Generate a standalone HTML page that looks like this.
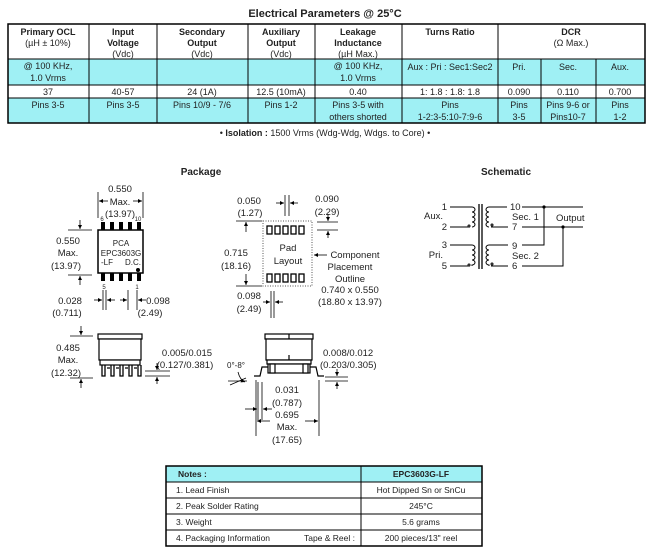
<!DOCTYPE html>
<html><head><meta charset="utf-8"><style>
html,body{margin:0;padding:0;background:#fff;}
svg{display:block;font-family:"Liberation Sans",Arial,sans-serif;}
text{fill:#222;}
</style></head><body>
<svg width="650" height="554" viewBox="0 0 650 554" xmlns="http://www.w3.org/2000/svg">
<defs>
<marker id="a" viewBox="0 0 10 10" refX="10" refY="5" markerWidth="5" markerHeight="5" orient="auto-start-reverse"><path d="M0,0L10,5L0,10z" fill="#000"/></marker>
</defs>
<text x="325" y="17" font-size="11" font-weight="bold" text-anchor="middle">Electrical Parameters @ 25°C</text>
<!-- table backgrounds -->
<rect x="8" y="59" width="637" height="26" fill="#9ff0f4"/>
<rect x="8" y="98" width="637" height="25" fill="#9ff0f4"/>
<g stroke="#000" stroke-width="1" fill="none">
<rect x="8" y="24" width="637" height="99" stroke-width="1.5"/>
<line x1="8" y1="59" x2="645" y2="59"/><line x1="8" y1="85" x2="645" y2="85"/><line x1="8" y1="98" x2="645" y2="98"/>
<line x1="89" y1="24" x2="89" y2="123"/><line x1="157" y1="24" x2="157" y2="123"/><line x1="248" y1="24" x2="248" y2="123"/>
<line x1="315" y1="24" x2="315" y2="123"/><line x1="402" y1="24" x2="402" y2="123"/><line x1="498" y1="24" x2="498" y2="123"/>
<line x1="541" y1="59" x2="541" y2="123"/><line x1="596" y1="59" x2="596" y2="123"/>
</g>
<g font-size="9" text-anchor="middle">
<text x="48" y="35" font-weight="bold">Primary OCL</text><text x="48" y="46">(µH ± 10%)</text>
<text x="123" y="35" font-weight="bold">Input</text><text x="123" y="46" font-weight="bold">Voltage</text><text x="123" y="57">(Vdc)</text>
<text x="202" y="35" font-weight="bold">Secondary</text><text x="202" y="46" font-weight="bold">Output</text><text x="202" y="57">(Vdc)</text>
<text x="281" y="35" font-weight="bold">Auxiliary</text><text x="281" y="46" font-weight="bold">Output</text><text x="281" y="57">(Vdc)</text>
<text x="358" y="35" font-weight="bold">Leakage</text><text x="358" y="46" font-weight="bold">Inductance</text><text x="358" y="57">(µH Max.)</text>
<text x="450" y="35" font-weight="bold">Turns Ratio</text>
<text x="571" y="35" font-weight="bold">DCR</text><text x="571" y="46">(Ω Max.)</text>
<text x="48" y="69">@ 100 KHz,</text><text x="48" y="81">1.0 Vrms</text>
<text x="358" y="69">@ 100 KHz,</text><text x="358" y="81">1.0 Vrms</text>
<text x="450" y="70">Aux : Pri : Sec1:Sec2</text>
<text x="519" y="70">Pri.</text><text x="568" y="70">Sec.</text><text x="620" y="70">Aux.</text>
<text x="48" y="95">37</text><text x="123" y="95">40-57</text><text x="202" y="95">24 (1A)</text><text x="281" y="95">12.5 (10mA)</text>
<text x="358" y="95">0.40</text><text x="450" y="95">1: 1.8 : 1.8: 1.8</text>
<text x="519" y="95">0.090</text><text x="568" y="95">0.110</text><text x="620" y="95">0.700</text>
<text x="48" y="108">Pins 3-5</text><text x="123" y="108">Pins 3-5</text><text x="202" y="108">Pins 10/9 - 7/6</text><text x="281" y="108">Pins 1-2</text>
<text x="358" y="108">Pins 3-5 with</text><text x="358" y="120">others shorted</text>
<text x="450" y="108">Pins</text><text x="450" y="120">1-2:3-5:10-7:9-6</text>
<text x="519" y="108">Pins</text><text x="519" y="120">3-5</text>
<text x="568" y="108">Pins 9-6 or</text><text x="568" y="120">Pins10-7</text>
<text x="620" y="108">Pins</text><text x="620" y="120">1-2</text>
<text x="325" y="136">•  <tspan font-weight="bold">Isolation :</tspan> 1500 Vrms (Wdg-Wdg, Wdgs. to Core)  •</text>
</g>

<text x="201" y="175" font-size="10" font-weight="bold" text-anchor="middle">Package</text>
<text x="506" y="175" font-size="10" font-weight="bold" text-anchor="middle">Schematic</text>

<g font-size="9.5" text-anchor="middle">
<!-- top view -->
<rect x="98" y="230" width="45" height="43" fill="#fff" stroke="#000" stroke-width="1.5"/>
<g fill="#000">
<rect x="101" y="222" width="4" height="8"/><rect x="110" y="222" width="4" height="8"/><rect x="119" y="222" width="4" height="8"/><rect x="128" y="222" width="4" height="8"/><rect x="137" y="222" width="4" height="8"/>
<rect x="101" y="273" width="4" height="8"/><rect x="110" y="273" width="4" height="8"/><rect x="119" y="273" width="4" height="8"/><rect x="128" y="273" width="4" height="8"/><rect x="137" y="273" width="4" height="8"/>
<circle cx="138" cy="270" r="2"/>
</g>
<text x="102" y="221" font-size="6">6</text><text x="138" y="221" font-size="6">10</text>
<text x="104" y="289" font-size="6">5</text><text x="137" y="289" font-size="6">1</text>
<text x="121" y="246" font-size="8">PCA</text><text x="121" y="256" font-size="8">EPC3603G</text>
<text x="107" y="265" font-size="8">-LF</text><text x="133" y="265" font-size="8">D.C.</text>
<text x="120" y="192">0.550</text><text x="120" y="205">Max.</text><text x="120" y="217">(13.97)</text>
<text x="68" y="244">0.550</text><text x="68" y="256">Max.</text><text x="66" y="269">(13.97)</text>
<text x="70" y="304">0.028</text><text x="67" y="316">(0.711)</text>
<text x="158" y="304">0.098</text><text x="150" y="316">(2.49)</text>
<!-- pad layout -->
<rect x="263" y="221" width="49" height="65" fill="none" stroke="#555" stroke-dasharray="1,1.5"/>
<g fill="none" stroke="#000" stroke-width="1.3">
<rect x="267" y="226" width="5" height="8"/><rect x="275" y="226" width="5" height="8"/><rect x="283" y="226" width="5" height="8"/><rect x="291" y="226" width="5" height="8"/><rect x="299" y="226" width="5" height="8"/>
<rect x="267" y="274" width="5" height="8"/><rect x="275" y="274" width="5" height="8"/><rect x="283" y="274" width="5" height="8"/><rect x="291" y="274" width="5" height="8"/><rect x="299" y="274" width="5" height="8"/>
</g>
<text x="288" y="251">Pad</text><text x="288" y="264">Layout</text>
<text x="236" y="256">0.715</text><text x="236" y="269">(18.16)</text>
<text x="249" y="204">0.050</text><text x="250" y="216">(1.27)</text>
<text x="327" y="202">0.090</text><text x="327" y="215">(2.29)</text>
<text x="249" y="299">0.098</text><text x="249" y="312">(2.49)</text>
<text x="355" y="258">Component</text><text x="350" y="270">Placement</text><text x="350" y="282">Outline</text>
<text x="350" y="293">0.740 x 0.550</text><text x="350" y="305">(18.80 x 13.97)</text>
<!-- side view left -->
<text x="68" y="351">0.485</text><text x="68" y="363">Max.</text><text x="66" y="376">(12.32)</text>
<text x="187" y="356">0.005/0.015</text><text x="185" y="368">(0.127/0.381)</text>
<!-- side view right -->
<text x="236" y="368" font-size="8">0°-8°</text>
<text x="323" y="356" text-anchor="start">0.008/0.012</text><text x="320" y="368" text-anchor="start">(0.203/0.305)</text>
<text x="287" y="393">0.031</text><text x="287" y="406">(0.787)</text>
<text x="287" y="418">0.695</text><text x="287" y="430">Max.</text><text x="287" y="443">(17.65)</text>
</g>

<g stroke="#000" stroke-width="0.8" fill="none">
<!-- top view dims -->
<line x1="98" y1="192" x2="98" y2="218"/><line x1="143" y1="192" x2="143" y2="218"/>
<line x1="108" y1="201" x2="99" y2="201" marker-end="url(#a)"/><line x1="133" y1="201" x2="142" y2="201" marker-end="url(#a)"/>
<line x1="68" y1="230" x2="92" y2="230"/><line x1="68" y1="275" x2="92" y2="275"/>
<line x1="80" y1="220" x2="80" y2="229" marker-end="url(#a)"/><line x1="80" y1="285" x2="80" y2="276" marker-end="url(#a)"/>
<line x1="103" y1="290" x2="103" y2="310"/><line x1="106" y1="290" x2="106" y2="310"/>
<line x1="94" y1="300" x2="102" y2="300" marker-end="url(#a)"/><line x1="115" y1="300" x2="107" y2="300" marker-end="url(#a)"/>
<line x1="128" y1="290" x2="128" y2="310"/><line x1="137" y1="290" x2="137" y2="310"/>
<line x1="120" y1="300" x2="127" y2="300" marker-end="url(#a)"/><line x1="146" y1="300" x2="138" y2="300" marker-end="url(#a)"/>
<!-- pad dims -->
<line x1="236" y1="221" x2="262" y2="221"/><line x1="236" y1="286" x2="262" y2="286"/>
<line x1="246" y1="232" x2="246" y2="222" marker-end="url(#a)"/><line x1="246" y1="274" x2="246" y2="285" marker-end="url(#a)"/>
<line x1="285" y1="195" x2="285" y2="216"/><line x1="289" y1="195" x2="289" y2="216"/>
<line x1="276" y1="203" x2="284" y2="203" marker-end="url(#a)"/><line x1="298" y1="203" x2="290" y2="203" marker-end="url(#a)"/>
<line x1="317" y1="222" x2="338" y2="222"/><line x1="317" y1="230" x2="338" y2="230"/>
<line x1="328" y1="214" x2="328" y2="221" marker-end="url(#a)"/><line x1="328" y1="238" x2="328" y2="231" marker-end="url(#a)"/>
<line x1="271" y1="291" x2="271" y2="318"/><line x1="274" y1="291" x2="274" y2="318"/>
<line x1="263" y1="302" x2="270" y2="302" marker-end="url(#a)"/><line x1="283" y1="302" x2="275" y2="302" marker-end="url(#a)"/>
<line x1="327" y1="255" x2="314" y2="255" marker-end="url(#a)"/>
<!-- side left -->
<line x1="70" y1="336" x2="93" y2="336"/><line x1="70" y1="378" x2="93" y2="378"/>
<line x1="81" y1="326" x2="81" y2="335" marker-end="url(#a)"/><line x1="81" y1="388" x2="81" y2="379" marker-end="url(#a)"/>
<line x1="145" y1="371" x2="170" y2="371"/><line x1="145" y1="376" x2="170" y2="376"/>
<line x1="157" y1="363" x2="157" y2="370" marker-end="url(#a)"/><line x1="157" y1="384" x2="157" y2="377" marker-end="url(#a)"/>
<!-- side right -->
<line x1="325" y1="377" x2="348" y2="377"/><line x1="325" y1="381" x2="348" y2="381"/>
<line x1="337" y1="369" x2="337" y2="376" marker-end="url(#a)"/><line x1="337" y1="389" x2="337" y2="382" marker-end="url(#a)"/>
<line x1="228" y1="381" x2="247" y2="381"/><line x1="230" y1="385" x2="246" y2="378"/>
<path d="M238,372 Q240,380 245,382" marker-end="url(#a)"/>
<line x1="258" y1="382" x2="258" y2="420"/><line x1="262" y1="382" x2="262" y2="420"/>
<line x1="245" y1="409" x2="257" y2="409" marker-end="url(#a)"/><line x1="272" y1="409" x2="263" y2="409" marker-end="url(#a)"/>
<line x1="256" y1="380" x2="256" y2="436"/><line x1="319" y1="380" x2="319" y2="436"/>
<line x1="270" y1="421" x2="257" y2="421" marker-end="url(#a)"/><line x1="305" y1="421" x2="318" y2="421" marker-end="url(#a)"/>
</g>
<!-- side view bodies -->
<g stroke="#000" stroke-width="1.2" fill="#fff">
<rect x="98" y="334" width="44" height="5"/>
<rect x="99" y="339" width="42" height="21"/>
<rect x="100" y="360" width="40" height="5"/>
<rect x="265" y="334" width="48" height="5"/>
<rect x="266" y="339" width="46" height="21"/>
<line x1="289" y1="334" x2="289" y2="339"/><line x1="289" y1="355" x2="289" y2="360"/>
<rect x="267" y="360" width="44" height="4"/>
<rect x="268" y="364" width="42" height="9"/>
<rect x="270" y="364" width="5" height="9"/><rect x="303" y="364" width="5" height="9"/>
<path d="M268,367 L262,367 L260,376 L254,376" fill="none"/>
<path d="M310,367 L316,367 L318,376 L324,376" fill="none"/>
</g>
<g stroke="#000" stroke-width="1.3" fill="none">
<path d="M102,365 v11 h3 v-11 M107,368 h3 M111,365 v11 h3 v-11 M116,368 h3 M120,365 v11 h3 v-11 M125,368 h3 M129,365 v11 h3 v-11 M134,368 h3 M138,365 v11 h3 v-11"/>
</g>

<!-- schematic -->
<g font-size="9.5">
<text x="447" y="210" text-anchor="end">1</text><text x="443" y="219" text-anchor="end">Aux.</text><text x="447" y="230" text-anchor="end">2</text>
<text x="447" y="248" text-anchor="end">3</text><text x="443" y="258" text-anchor="end">Pri.</text><text x="447" y="269" text-anchor="end">5</text>
<text x="510" y="210">10</text><text x="512" y="220">Sec. 1</text><text x="512" y="230">7</text>
<text x="512" y="249">9</text><text x="512" y="259">Sec. 2</text><text x="512" y="269">6</text>
<text x="556" y="221">Output</text>
</g>
<g stroke="#000" stroke-width="1" fill="none">
<path d="M450,207 H472 M450,227 H470 M450,245 H472 M450,266 H470"/>
<path d="M472,207 a3,2.5 0 0 1 0,5 a3,2.5 0 0 1 0,5 a3,2.5 0 0 1 0,5 a3,2.5 0 0 1 0,5"/>
<path d="M472,245 a3,2.5 0 0 1 0,5 a3,2.5 0 0 1 0,5 a3,2.5 0 0 1 0,5 a3,2.5 0 0 1 0,5 v1"/>
<line x1="479" y1="204" x2="479" y2="269" stroke-width="1.3"/><line x1="482" y1="204" x2="482" y2="269" stroke-width="1.3"/>
<path d="M489,207 a3,2.5 0 0 0 0,5 a3,2.5 0 0 0 0,5 a3,2.5 0 0 0 0,5 a3,2.5 0 0 0 0,5"/>
<path d="M489,245 a3,2.5 0 0 0 0,5 a3,2.5 0 0 0 0,5 a3,2.5 0 0 0 0,5 a3,2.5 0 0 0 0,5 v1"/>
<path d="M489,207 H507 M491,227 H508 M489,245 H508 M491,266 H508"/>
<circle cx="469" cy="226" r="1"/><circle cx="469" cy="265" r="1"/><circle cx="492" cy="225" r="1"/><circle cx="492" cy="264" r="1"/>
<path d="M522,207 H583 M522,227 H583 M522,245 H544 V207 M522,266 H563 V227"/>
</g>
<circle cx="544" cy="207" r="1.6" fill="#000"/><circle cx="563" cy="227" r="1.6" fill="#000"/>

<!-- notes table -->
<rect x="166" y="466" width="316" height="16" fill="#9ff0f4"/>
<g stroke="#000" fill="none">
<rect x="166" y="466" width="316" height="80" stroke-width="1.5"/>
<path d="M166,482 H482 M166,498 H482 M166,514 H482 M166,530 H482 M361,466 V546" stroke-width="1"/>
</g>
<g font-size="8.5">
<text x="178" y="477" font-weight="bold">Notes :</text>
<text x="421" y="477" font-weight="bold" text-anchor="middle">EPC3603G-LF</text>
<text x="176" y="493">1.  Lead Finish</text><text x="421" y="493" text-anchor="middle">Hot Dipped Sn or SnCu</text>
<text x="176" y="509">2.  Peak Solder Rating</text><text x="421" y="509" text-anchor="middle">245°C</text>
<text x="176" y="525">3.  Weight</text><text x="421" y="525" text-anchor="middle">5.6 grams</text>
<text x="176" y="541">4.  Packaging Information</text><text x="355" y="541" text-anchor="end">Tape &amp; Reel :</text><text x="421" y="541" text-anchor="middle">200 pieces/13" reel</text>
</g>
</svg>
</body></html>
